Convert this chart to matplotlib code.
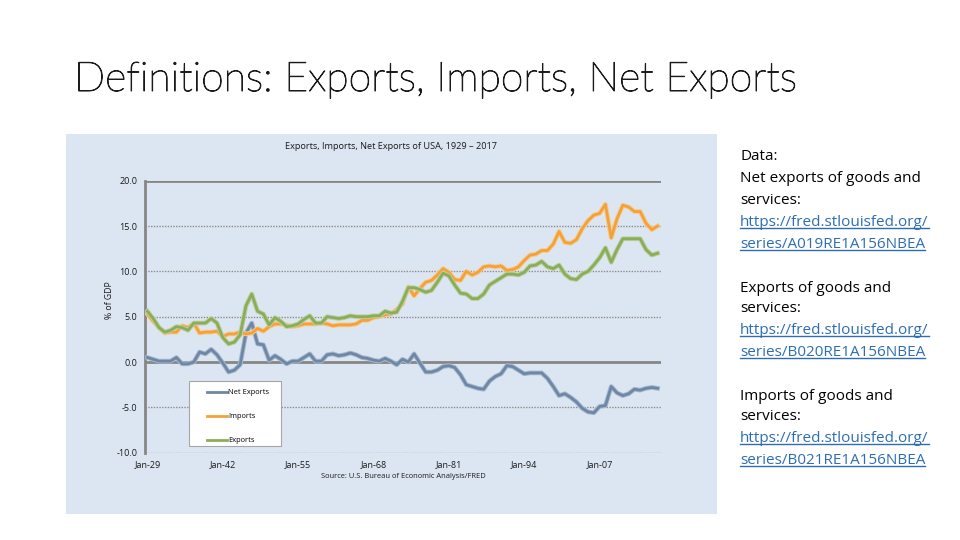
import matplotlib
matplotlib.use("Agg")
import matplotlib.pyplot as plt
import matplotlib.patheffects as pe
from matplotlib.patches import Rectangle
from matplotlib.lines import Line2D

# ---------------- data (% of GDP, annual 1929-2017) ----------------
years = list(range(1929, 2018))

net_exports = [
    0.5, 0.3, 0.1, 0.1, 0.1, 0.5, -0.2, -0.2, 0.0, 1.1,          # 1929-1938
    0.9, 1.4, 0.8, -0.1, -1.1, -0.9, -0.3, 3.2, 4.3, 2.0,        # 1939-1948
    1.9, 0.2, 0.7, 0.3, -0.2, 0.1, 0.1, 0.5, 0.9, 0.1,           # 1949-1958
    0.1, 0.8, 0.9, 0.7, 0.8, 1.0, 0.8, 0.5, 0.4, 0.2,            # 1959-1968
    0.1, 0.4, 0.1, -0.3, 0.3, 0.0, 0.9, -0.1, -1.1, -1.1,        # 1969-1978
    -0.9, -0.5, -0.4, -0.6, -1.4, -2.5, -2.7, -2.9, -3.0, -2.1,  # 1979-1988
    -1.6, -1.3, -0.4, -0.5, -0.9, -1.3, -1.2, -1.2, -1.2, -1.8,  # 1989-1998
    -2.7, -3.7, -3.5, -3.9, -4.4, -5.1, -5.5, -5.6, -4.9, -4.8,  # 1999-2008
    -2.7, -3.4, -3.7, -3.5, -3.0, -3.1, -2.9, -2.8, -2.9,        # 2009-2017
]

imports = [
    5.3, 4.5, 3.8, 3.2, 3.3, 3.3, 4.0, 3.8, 4.3, 3.2,
    3.3, 3.3, 3.4, 2.8, 3.1, 3.1, 3.3, 3.1, 3.2, 3.7,
    3.4, 3.9, 4.2, 4.2, 4.1, 3.9, 4.0, 4.2, 4.2, 4.2,
    4.3, 4.2, 4.0, 4.1, 4.1, 4.1, 4.2, 4.6, 4.6, 4.9,
    5.0, 5.2, 5.3, 5.8, 6.4, 8.3, 7.3, 8.1, 8.8, 9.0,
    9.6, 10.3, 9.9, 9.1, 9.0, 10.0, 9.6, 9.9, 10.5, 10.6,
    10.5, 10.6, 10.1, 10.2, 10.5, 11.2, 11.8, 11.9, 12.3, 12.3,
    13.0, 14.4, 13.2, 13.1, 13.5, 14.7, 15.6, 16.2, 16.4, 17.4,
    13.7, 15.8, 17.3, 17.1, 16.6, 16.6, 15.3, 14.6, 15.0,
]

exports = [
    5.6, 4.8, 3.8, 3.3, 3.5, 3.9, 3.8, 3.5, 4.3, 4.3,
    4.3, 4.8, 4.3, 2.7, 2.0, 2.2, 3.0, 6.2, 7.5, 5.6,
    5.3, 4.1, 4.9, 4.5, 3.9, 4.0, 4.2, 4.7, 5.1, 4.3,
    4.3, 5.0, 4.9, 4.8, 4.9, 5.1, 5.0, 5.0, 5.0, 5.1,
    5.1, 5.6, 5.4, 5.5, 6.7, 8.2, 8.2, 8.0, 7.7, 7.9,
    8.8, 9.8, 9.5, 8.5, 7.6, 7.5, 7.0, 7.0, 7.5, 8.5,
    8.9, 9.3, 9.7, 9.7, 9.6, 9.9, 10.6, 10.7, 11.1, 10.5,
    10.3, 10.7, 9.7, 9.2, 9.1, 9.7, 10.0, 10.7, 11.5, 12.6,
    11.0, 12.4, 13.6, 13.6, 13.6, 13.6, 12.4, 11.8, 12.0,
]

series_names = ["Net Exports", "Imports", "Exports"]
tick_years = [1929, 1942, 1955, 1968, 1981, 1994, 2007]
tick_labels = ["Jan-29", "Jan-42", "Jan-55", "Jan-68", "Jan-81", "Jan-94", "Jan-07"]
y_ticks = [20.0, 15.0, 10.0, 5.0, 0.0, -5.0, -10.0]

# ---------------- figure ----------------
W, H = 960, 540
fig = plt.figure(figsize=(9.6, 5.4), dpi=100)
fig.patch.set_facecolor("white")

def fx(px):
    return px / W

def fy(py):
    return 1 - py / H

# slide title
fig.text(fx(74), fy(80), "Definitions: Exports, Imports, Net Exports",
         fontsize=29.5, family="Lato", weight="light", color="#1a1a1a",
         ha="left", va="center",
         path_effects=[pe.withStroke(linewidth=0.7, foreground="#1a1a1a")])

# chart area background
bg = Rectangle((fx(66), fy(514)), fx(717) - fx(66), fy(134) - fy(514),
               transform=fig.transFigure, facecolor="#DCE6F2", edgecolor="none", zorder=-5)
fig.patches.append(bg)

chart_font = "Open Sans"

fig.text(fx(391), fy(147), "Exports, Imports, Net Exports of USA, 1929 \u2013 2017",
         fontsize=6.6, family=chart_font, color="#1a1a1a", ha="center", va="center")

# plot axes
left, right = 144.5, 660.5
top, bottom = 180.7, 452.7
ax = fig.add_axes([fx(left), fy(bottom), fx(right) - fx(left), fy(top) - fy(bottom)])
ax.set_zorder(2)
ax.set_facecolor("none")
ax.set_xlim(1928.5, 2017.5)
ax.set_ylim(-10, 20)

for s in ["top", "right", "bottom"]:
    ax.spines[s].set_visible(False)
ax.spines["left"].set_color("#868686")
ax.spines["left"].set_linewidth(2.0)

# grid lines
for yv in y_ticks:
    if yv in (20.0, 0.0):
        ax.axhline(yv, color="#868686", lw=2.0, zorder=1)
    else:
        ax.axhline(yv, color="#8C8C8C", lw=1.0, linestyle=(0, (1, 1)), zorder=1)

colors = ["#6E87A5", "#F2A23A", "#8BAC5B"]
glows = ["#A9BACE", "#F8CB8E", "#BCD19D"]
lines = []
for data, name, c, g in zip([net_exports, imports, exports], series_names, colors, glows):
    ln, = ax.plot(years, data, color=c, lw=2.0, label=name, zorder=3,
                  solid_joinstyle="round",
                  path_effects=[pe.Stroke(linewidth=3.4, foreground=g), pe.Normal()])
    lines.append(ln)

ax.set_yticks(y_ticks)
ax.set_yticklabels([f"{v:.1f}" for v in y_ticks], family=chart_font, fontsize=6.5, color="#1a1a1a")
ax.tick_params(axis="y", length=0, pad=5)
ax.set_xticks(tick_years)
ax.set_xticklabels(tick_labels, family=chart_font, fontsize=6.5, color="#1a1a1a")
ax.tick_params(axis="x", length=0, pad=5)

fig.text(fx(110), fy(300), "% of GDP", rotation=90, fontsize=6.3, family=chart_font,
         color="#1a1a1a", ha="center", va="center")
fig.text(fx(403), fy(476), "Source: U.S. Bureau of Economic Analysis/FRED",
         fontsize=5.4, family=chart_font, color="#1a1a1a", ha="center", va="center")

# legend box
lg_box = Rectangle((fx(189), fy(446)), fx(281) - fx(189), fy(381) - fy(446),
                   transform=fig.transFigure, facecolor="white", edgecolor="#A6A6A6",
                   lw=0.8, zorder=5)
fig.patches.append(lg_box)
handles = [Line2D([0], [0], color=c, lw=2.0) for c in colors]
leg = fig.legend(handles, series_names, loc="upper left",
                 bbox_to_anchor=(fx(201), fy(383)), frameon=False,
                 prop={"family": chart_font, "size": 5.4},
                 handlelength=2.6, handletextpad=0.2, labelspacing=2.25,
                 borderpad=0.3)
leg.set_zorder(6)

# right-side text
link_color = "#2E6DB4"
side_lines = [
    ("Data:", 157, False),
    ("Net exports of goods and", 179, False),
    ("services:", 201, False),
    ("https://fred.stlouisfed.org/", 222, True),
    ("series/A019RE1A156NBEA", 244, True),
    ("Exports of goods and", 288, False),
    ("services:", 309, False),
    ("https://fred.stlouisfed.org/", 330, True),
    ("series/B020RE1A156NBEA", 352, True),
    ("Imports of goods and", 396, False),
    ("services:", 417, False),
    ("https://fred.stlouisfed.org/", 438, True),
    ("series/B021RE1A156NBEA", 460, True),
]
link_texts = []
for txt, ypx, is_link in side_lines:
    t = fig.text(fx(740), fy(ypx), txt, fontsize=11, family="Open Sans",
                 color=link_color if is_link else "#000000", ha="left", va="center")
    if is_link:
        link_texts.append(t)

fig.canvas.draw()
renderer = fig.canvas.get_renderer()
for t in link_texts:
    bb = t.get_window_extent(renderer=renderer)
    x0, x1 = bb.x0 / W, bb.x1 / W
    yb = (bb.y0 + 2.0) / H
    fig.add_artist(Line2D([x0, x1], [yb, yb], transform=fig.transFigure,
                          color=link_color, lw=1.0))

fig.savefig("out.png", dpi=100, facecolor="white")
